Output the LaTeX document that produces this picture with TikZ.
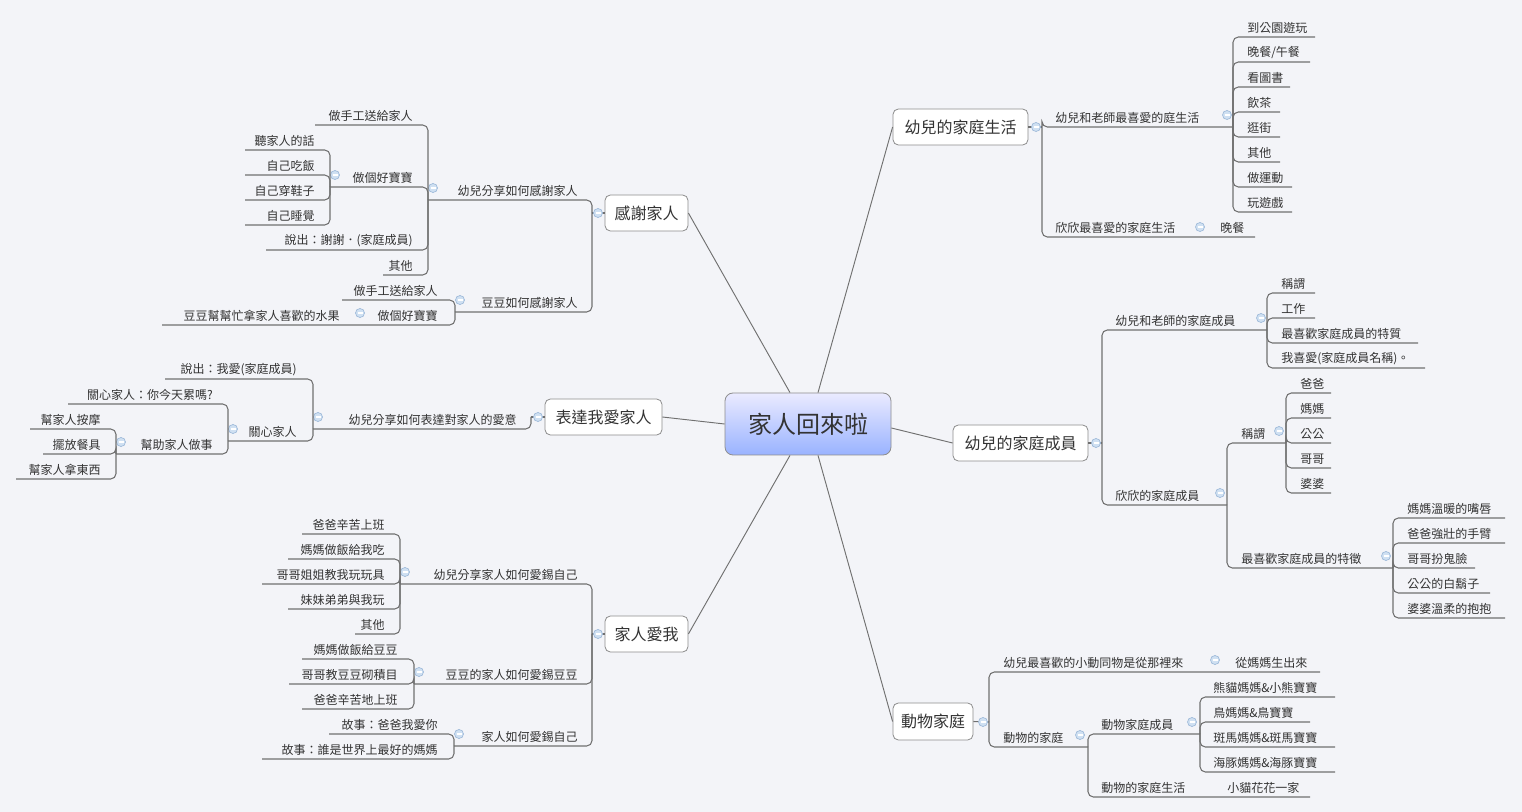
\documentclass[tikz,border=0pt]{standalone}
\usepackage{fontspec}
\setmainfont{Noto Sans CJK TC}
\definecolor{bg}{HTML}{F3F4F8}
\definecolor{ln}{HTML}{707070}
\definecolor{tx}{HTML}{333333}
\definecolor{cf}{HTML}{CFE0F2}
\definecolor{cd}{HTML}{9DB9D9}
\tikzset{
  lnk/.style={draw=ln,line width=0.8pt,rounded corners=4},
  lf/.style={inner xsep=0pt,inner ysep=2.5pt,text=tx,font=\fontsize{9}{10}\selectfont},
  mbox/.style={draw=ln!80,fill=white,rounded corners=4,text=tx,font=\fontsize{12}{14}\selectfont,line width=0.6pt},
}
% right leaf: name, textx, ul, right, spine, parent ul, text
\newcommand\Rl[7]{\draw[lnk] (#5,#6) |- (#4,#3);\node[lf,anchor=south west] (#1) at (#2,#3) {#7};}
% left leaf: name, textright, ul, left, spine, parent ul, text
\newcommand\Ll[7]{\draw[lnk] (#5,#6) |- (#4,#3);\node[lf,anchor=south east] (#1) at (#2,#3) {#7};}
\newcommand\Cm[2]{\draw[cd,fill=cf,line width=0.5pt] (#1,#2) circle (4.5);\draw[white,line width=0.9pt] (#1-2.5,#2) -- (#1+2.5,#2);}
\begin{document}
\begin{tikzpicture}[x=0.75pt,y=-0.75pt]
\fill[bg] (0,0) rectangle (1522,812);
\useasboundingbox (0,0) rectangle (1522,812);
% central and main boxes
\node[draw=ln!80,rounded corners=6,top color=blue!8!white,bottom color=cyan!25!blue!40!white,minimum width=166*0.75pt,minimum height=62*0.75pt,text=tx,font=\fontsize{18}{20}\selectfont,line width=0.6pt] (c) at (808,424) {家人回來啦};
\node[mbox,minimum width=135*0.75pt,minimum height=36*0.75pt] (b1) at (960.5,127) {幼兒的家庭生活};
\node[mbox,minimum width=135*0.75pt,minimum height=36*0.75pt] (b2) at (1020.5,443) {幼兒的家庭成員};
\node[mbox,minimum width=80*0.75pt,minimum height=37*0.75pt] (b3) at (933,721.5) {動物家庭};
\node[mbox,minimum width=83*0.75pt,minimum height=36*0.75pt] (d) at (646.5,213) {感謝家人};
\node[mbox,minimum width=117*0.75pt,minimum height=36*0.75pt] (e) at (603.5,417) {表達我愛家人};
\node[mbox,minimum width=83*0.75pt,minimum height=36*0.75pt] (f) at (646.5,634) {家人愛我};
\draw[ln,line width=0.7pt] ([xshift=7.5pt]c.north) -- (b1.west);
\draw[ln,line width=0.7pt] ([xshift=-13.5pt]c.north) -- (d.east);
\draw[ln,line width=0.7pt] ([yshift=-3pt]c.east) -- (b2.west);
\draw[ln,line width=0.7pt] (c.west) -- (e.east);
\draw[ln,line width=0.7pt] ([xshift=-13.5pt]c.south) -- (f.east);
\draw[ln,line width=0.7pt] ([xshift=7.5pt]c.south) -- (b3.west);
% ===== group 1 right
\draw[lnk] (b1.east) -- (1042,127);
\Cm{1036}{127}
\Rl{a1}{1055}{127}{1233}{1042}{127}{幼兒和老師最喜愛的庭生活}
\Cm{1227}{115}
\Rl{a11}{1247}{37}{1315}{1233}{127}{到公園遊玩}
\Rl{a12}{1247}{62}{1310}{1233}{127}{晚餐/午餐}
\Rl{a13}{1247}{87}{1290}{1233}{127}{看圖書}
\Rl{a14}{1247}{112}{1280}{1233}{127}{飲茶}
\Rl{a15}{1247}{137}{1280}{1233}{127}{逛街}
\Rl{a16}{1247}{162}{1280}{1233}{127}{其他}
\Rl{a17}{1247}{187}{1292}{1233}{127}{做運動}
\Rl{a18}{1247}{212}{1292}{1233}{127}{玩遊戲}
\Rl{a2}{1055}{237}{1255}{1042}{127}{欣欣最喜愛的家庭生活}
\Cm{1200}{227}
\node[lf,anchor=south west] (a21) at (1220,237) {晚餐};
% ===== group 2 right
\draw[lnk] (b2.east) -- (1102,443);
\Cm{1096}{443}
\Rl{b2a}{1115}{330}{1267}{1102}{443}{幼兒和老師的家庭成員}
\Cm{1261}{318}
\Rl{b2a1}{1281}{293}{1315}{1267}{330}{稱謂}
\Rl{b2a2}{1281}{318}{1315}{1267}{330}{工作}
\Rl{b2a3}{1281}{343}{1418}{1267}{330}{最喜歡家庭成員的特質}
\Rl{b2a4}{1281}{368}{1425}{1267}{330}{我喜愛(家庭成員名稱)。}
\Rl{b2b}{1115}{505}{1227}{1102}{443}{欣欣的家庭成員}
\Cm{1220}{493}
\Rl{b2c}{1241}{443}{1286}{1227}{505}{稱謂}
\Cm{1279}{431}
\Rl{b2c1}{1300}{393}{1331}{1286}{443}{爸爸}
\Rl{b2c2}{1300}{418}{1331}{1286}{443}{媽媽}
\Rl{b2c3}{1300}{443}{1331}{1286}{443}{公公}
\Rl{b2c4}{1300}{468}{1331}{1286}{443}{哥哥}
\Rl{b2c5}{1300}{493}{1331}{1286}{443}{婆婆}
\Rl{b2d}{1241}{568}{1393}{1227}{505}{最喜歡家庭成員的特徵}
\Cm{1386}{556}
\Rl{b2d1}{1407}{518}{1505}{1393}{568}{媽媽溫暖的嘴唇}
\Rl{b2d2}{1407}{543}{1505}{1393}{568}{爸爸強壯的手臂}
\Rl{b2d3}{1407}{568}{1475}{1393}{568}{哥哥扮鬼臉}
\Rl{b2d4}{1407}{593}{1490}{1393}{568}{公公的白鬍子}
\Rl{b2d5}{1407}{618}{1505}{1393}{568}{婆婆溫柔的抱抱}
% ===== group 3 right
\draw[lnk] (b3.east) -- (989,722);
\Cm{983}{722}
\Rl{c1}{1003}{672}{1320}{989}{722}{幼兒最喜歡的小動同物是從那裡來}
\Cm{1215}{660}
\node[lf,anchor=south west] (c11) at (1235,672) {從媽媽生出來};
\Rl{c2}{1003}{747}{1088}{989}{722}{動物的家庭}
\Cm{1080}{735}
\Rl{c2a}{1101}{734}{1200}{1088}{747}{動物家庭成員}
\Cm{1192}{722}
\Rl{c2a1}{1213}{697}{1335}{1200}{734}{熊貓媽媽\&小熊寶寶}
\Rl{c2a2}{1213}{722}{1310}{1200}{734}{鳥媽媽\&鳥寶寶}
\Rl{c2a3}{1213}{747}{1335}{1200}{734}{斑馬媽媽\&斑馬寶寶}
\Rl{c2a4}{1213}{772}{1335}{1200}{734}{海豚媽媽\&海豚寶寶}
\Rl{c2b}{1101}{797}{1310}{1088}{747}{動物的家庭生活}
\node[lf,anchor=south west] (c2b1) at (1227,797) {小貓花花一家};
% ===== left group 1
\draw[lnk] (d.west) -- (592,213);
\Cm{598}{213}
\Ll{d1}{578}{200}{428}{592}{213}{幼兒分享如何感謝家人}
\Cm{433}{188}
\Ll{d11}{413}{125}{315}{428}{200}{做手工送給家人}
\Ll{d12}{413}{187}{330}{428}{200}{做個好寶寶}
\Cm{335}{175}
\Ll{d121}{315}{150}{245}{330}{187}{聽家人的話}
\Ll{d122}{315}{175}{245}{330}{187}{自己吃飯}
\Ll{d123}{315}{200}{245}{330}{187}{自己穿鞋子}
\Ll{d124}{315}{225}{245}{330}{187}{自己睡覺}
\Ll{d13}{413}{250}{266}{428}{200}{說出：謝謝．(家庭成員)}
\Ll{d14}{413}{275}{383}{428}{200}{其他}
\Ll{d2}{578}{312}{455}{592}{213}{豆豆如何感謝家人}
\Cm{460}{300}
\Ll{d21}{438}{300}{342}{455}{312}{做手工送給家人}
\Ll{d22}{438}{325}{162}{455}{312}{做個好寶寶}
\Cm{360}{313}
\node[lf,anchor=south east] (d221) at (340,325) {豆豆幫幫忙拿家人喜歡的水果};
% ===== left group 2
\draw[lnk] (e.west) -- (531,417);
\Cm{538}{417}
\Ll{e1}{517}{429}{313}{531}{417}{幼兒分享如何表達對家人的愛意}
\Cm{318}{417}
\Ll{e11}{297}{379}{165}{313}{429}{說出：我愛(家庭成員)}
\Ll{e12}{297}{441}{228}{313}{429}{關心家人}
\Cm{233}{429}
\Ll{e121}{213}{404}{68}{228}{441}{關心家人：你今天累嗎?}
\Ll{e122}{213}{454}{116}{228}{441}{幫助家人做事}
\Cm{121}{442}
\Ll{e1221}{101}{429}{30}{116}{454}{幫家人按摩}
\Ll{e1222}{101}{454}{43}{116}{454}{擺放餐具}
\Ll{e1223}{101}{479}{16}{116}{454}{幫家人拿東西}
% ===== left group 3
\draw[lnk] (f.west) -- (592,634);
\Cm{598}{634}
\Ll{f1}{578}{584}{400}{592}{634}{幼兒分享家人如何愛錫自己}
\Cm{405}{572}
\Ll{f11}{385}{534}{302}{400}{584}{爸爸辛苦上班}
\Ll{f12}{385}{559}{288}{400}{584}{媽媽做飯給我吃}
\Ll{f13}{385}{584}{262}{400}{584}{哥哥姐姐教我玩玩具}
\Ll{f14}{385}{609}{288}{400}{584}{妹妹弟弟與我玩}
\Ll{f15}{385}{634}{355}{400}{584}{其他}
\Ll{f2}{578}{684}{414}{592}{634}{豆豆的家人如何愛錫豆豆}
\Cm{419}{672}
\Ll{f21}{398}{659}{302}{414}{684}{媽媽做飯給豆豆}
\Ll{f22}{398}{684}{289}{414}{684}{哥哥教豆豆砌積目}
\Ll{f23}{398}{709}{302}{414}{684}{爸爸辛苦地上班}
\Ll{f3}{578}{746}{454}{592}{634}{家人如何愛錫自己}
\Cm{459}{734}
\Ll{f31}{438}{734}{329}{454}{746}{故事：爸爸我愛你}
\Ll{f32}{438}{759}{262}{454}{746}{故事：誰是世界上最好的媽媽}
\end{tikzpicture}
\end{document}
